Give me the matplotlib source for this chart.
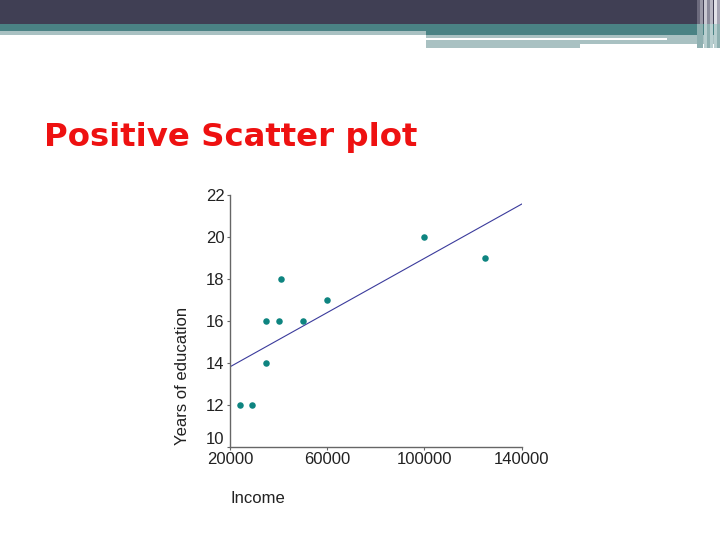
import numpy as np
import matplotlib
matplotlib.use("Agg")
import matplotlib.pyplot as plt
from matplotlib.patches import Rectangle

# ---- data ----
income = [24000, 29000, 35000, 35000, 40000, 41000, 50000, 60000, 100000, 125000]
education = [12, 12, 16, 14, 16, 18, 16, 17, 20, 19]
x_ticks = [20000, 60000, 100000, 140000]
y_ticks = [10, 12, 14, 16, 18, 20, 22]
title = "Positive Scatter plot"
x_label = "Income"
y_label = "Years of education"

W, H = 720, 540
fig = plt.figure(figsize=(7.2, 5.4), dpi=100)
fig.patch.set_facecolor("white")

def rect(x0, y0, x1, y1, color):
    fig.patches.append(Rectangle((x0 / W, 1 - y1 / H), (x1 - x0) / W, (y1 - y0) / H,
                                 transform=fig.transFigure, facecolor=color,
                                 edgecolor="none", zorder=0))

# header decoration
rect(0, 0, 720, 24, "#403f54")
rect(0, 24, 720, 31, "#4a8284")
rect(0, 31, 426, 35, "#a9c1c2")
rect(426, 31, 720, 35, "#4a8284")
rect(426, 35, 720, 44, "#a9c1c2")
rect(426, 44, 580, 48, "#a9c1c2")
rect(426, 38, 667, 40, "#ffffff")
for xs, c in [(697, "#6d6b7e"), (700, "#9a99a8"), (704, "#c9c8d2"), (707, "#8a899a"),
              (710, "#b8b7c3"), (714, "#e2e2e8"), (717, "#a5a4b3")]:
    rect(xs, 0, xs + 3, 24, c)
    rect(xs, 24, xs + 3, 48, "#b9cfd0" if c > "#b" else "#8fb0b1")

fig.text(44 / W, 1 - 146 / H, title, color="#ee1111", fontsize=23.3,
         fontweight="bold", family=["DejaVu Sans"], ha="left", va="baseline")

ax = fig.add_axes([230 / W, 1 - 446.7 / H, (521.7 - 230) / W, (446.7 - 195) / H])
ax.scatter(income, education, s=22, color="#0e8480", zorder=3, linewidths=0)

coef = np.polyfit(income, education, 1)
xl = np.array([x_ticks[0], x_ticks[-1]])
ax.plot(xl, np.polyval(coef, xl), color="#3b3b9c", lw=0.8, zorder=2)

ax.set_xlim(x_ticks[0], x_ticks[-1])
ax.set_ylim(y_ticks[0], y_ticks[-1])
ax.set_xticks(x_ticks)
ax.set_yticks(y_ticks)
ax.set_xticklabels([str(v) for v in x_ticks])
ax.set_yticklabels([str(v) for v in y_ticks])
for s in ["top", "right"]:
    ax.spines[s].set_visible(False)
for s in ["left", "bottom"]:
    ax.spines[s].set_color("#666666")
    ax.spines[s].set_linewidth(1.0)
ax.tick_params(axis="both", length=2.5, width=0.8, color="#666666",
               labelsize=12, labelcolor="#222222", pad=1.5)
for lab in ax.get_xticklabels() + ax.get_yticklabels():
    lab.set_family("Liberation Sans")
ax.get_yticklabels()[0].set_va("bottom")

ax.set_xlabel(x_label, fontsize=12, family="Liberation Sans", color="#222222")
ax.xaxis.set_label_coords((258 - 230) / 291.7, (446.7 - 491) / 251.7)
ax.set_ylabel(y_label, fontsize=12, family="Liberation Sans", color="#222222")
ax.yaxis.set_label_coords((190 - 230) / 291.7, (446.7 - 376) / 251.7)

fig.savefig("out.png", dpi=100)
